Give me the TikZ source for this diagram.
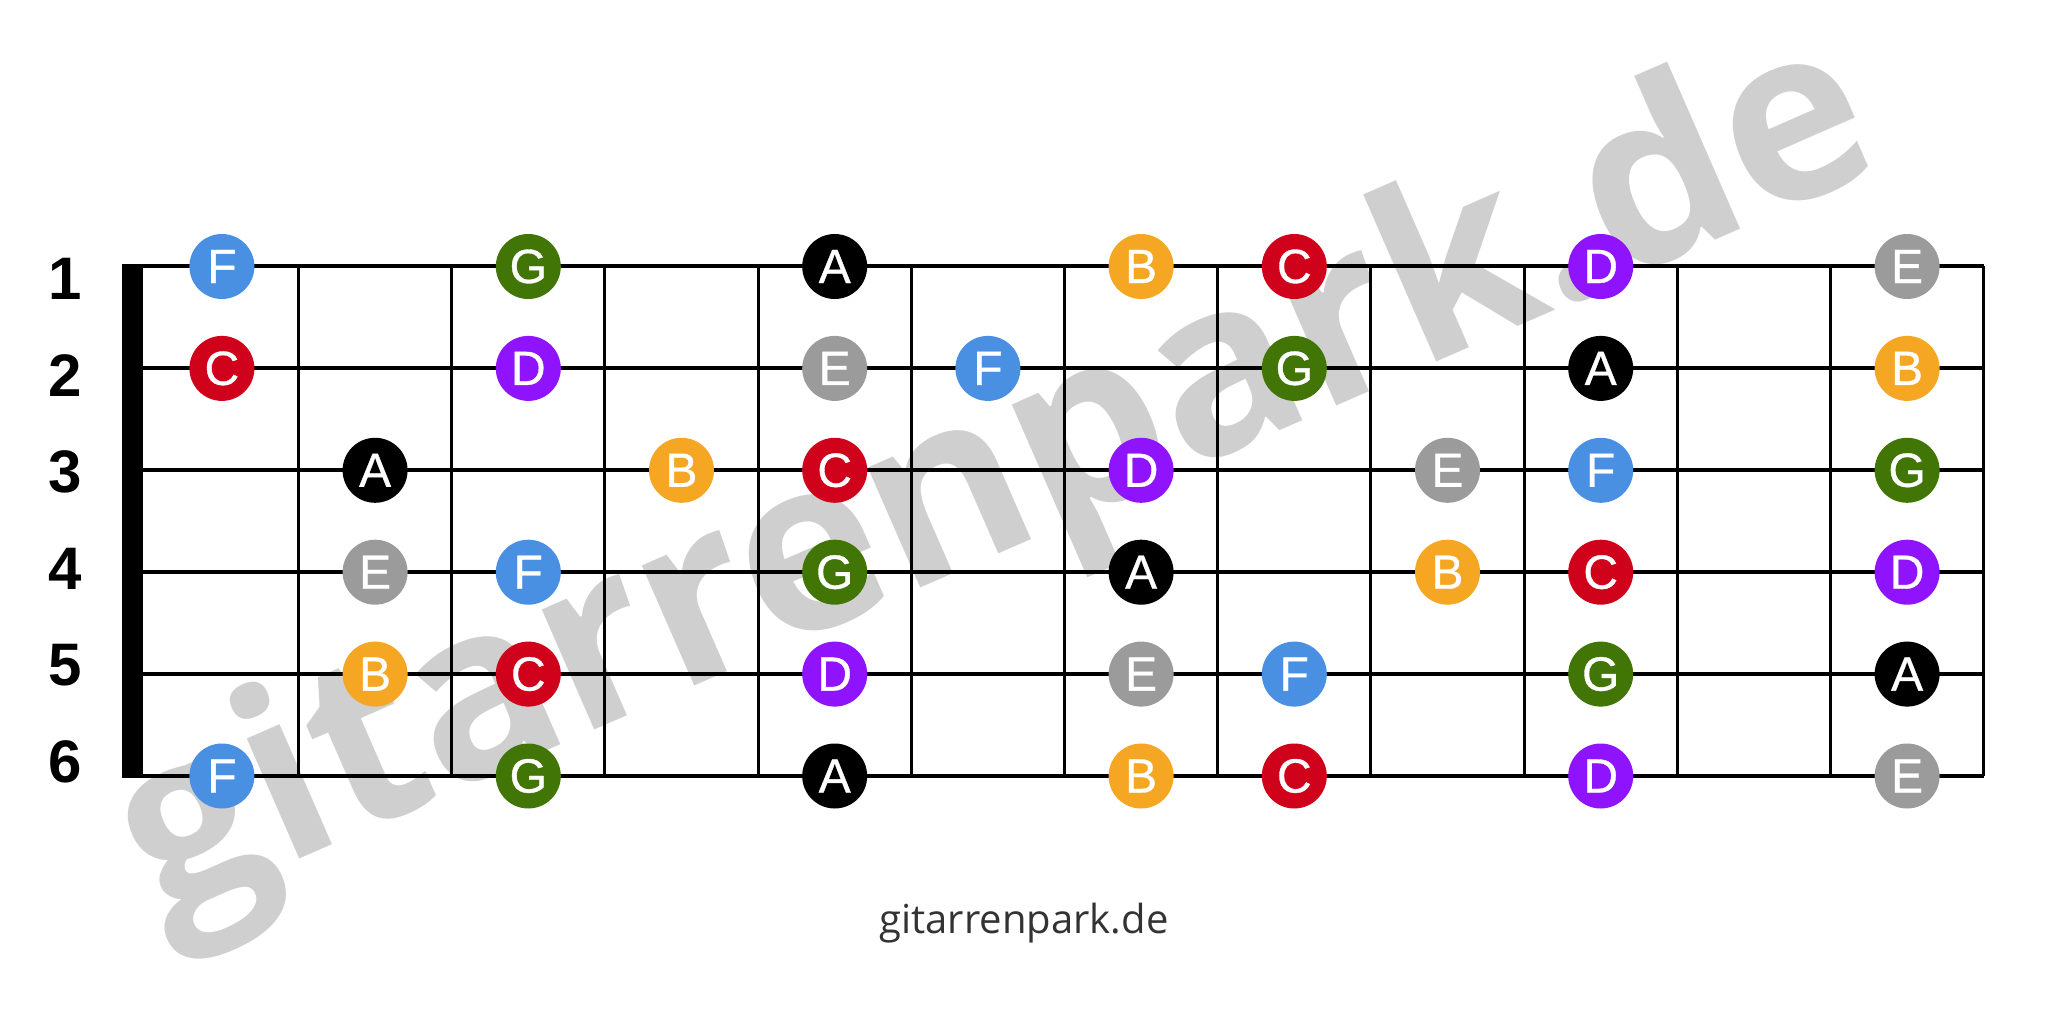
\documentclass[tikz,border=0pt]{standalone}
\usepackage{fontspec}
\setmainfont{Liberation Sans}
\newfontfamily\osans{Open Sans}
\newfontfamily\notefont[FakeBold=0.7]{Liberation Sans}
\definecolor{nF}{HTML}{4A90E2}
\definecolor{nG}{HTML}{417505}
\definecolor{nA}{HTML}{000000}
\definecolor{nB}{HTML}{F5A623}
\definecolor{nC}{HTML}{D0021B}
\definecolor{nD}{HTML}{9013FE}
\definecolor{nE}{HTML}{9B9B9B}
\definecolor{wmgray}{RGB}{207,207,207}
\begin{document}
\begin{tikzpicture}[x=1pt,y=-1pt,
  notedot/.style={circle,minimum size=65pt,inner sep=0pt,text=white,font=\notefont\fontsize{48}{48}\selectfont},
  stringline/.style={line width=4pt,black},
  fretline/.style={line width=3pt,black},
  strlabel/.style={font=\fontsize{60}{60}\selectfont\bfseries,inner sep=0pt},
  wmtext/.style={text=wmgray,font=\osans\bfseries\fontsize{240}{240}\selectfont,inner sep=0pt},
  footer/.style={font=\osans\fontsize{40}{40}\selectfont,text=black!80,inner sep=0pt}]
\fill[white] (0,0) rectangle (2048,1024);
\useasboundingbox (0,0) rectangle (2048,1024);
% watermark
\node[wmtext,anchor=base west,rotate=23.6] (wm) at (158,921) {gitarrenpark.de};
% strings
\foreach \s in {1,...,6} {
  \pgfmathsetmacro\yy{266.5+101.9*(\s-1)}
  \coordinate (sL\s) at (130,\yy);
  \coordinate (sR\s) at (1984,\yy);
  \draw[stringline] (sL\s) -- (sR\s);
}
% frets
\foreach \k in {1,...,12} {
  \pgfmathsetmacro\xx{298.5+153.2*(\k-1)}
  \coordinate (fT\k) at (\xx,266.5);
  \coordinate (fB\k) at (\xx,776);
  \draw[fretline] (fT\k) -- (fB\k);
}
% nut
\fill[black] (122,264.5) rectangle (143,778);
% string labels
\foreach \s in {1,...,6} {
  \pgfmathsetmacro\yy{278.5+96.7*(\s-1)}
  \node[strlabel] (lab\s) at (65,\yy) {\s};
}
% notes
\foreach \s/\k/\n in {
  1/1/F,1/3/G,1/5/A,1/7/B,1/8/C,1/10/D,1/12/E,
  2/1/C,2/3/D,2/5/E,2/6/F,2/8/G,2/10/A,2/12/B,
  3/2/A,3/4/B,3/5/C,3/7/D,3/9/E,3/10/F,3/12/G,
  4/2/E,4/3/F,4/5/G,4/7/A,4/9/B,4/10/C,4/12/D,
  5/2/B,5/3/C,5/5/D,5/7/E,5/8/F,5/10/G,5/12/A,
  6/1/F,6/3/G,6/5/A,6/7/B,6/8/C,6/10/D,6/12/E} {
  \pgfmathsetmacro\xx{298.5+153.2*(\k-1.5)}
  \pgfmathsetmacro\yy{266.5+101.9*(\s-1)}
  \node[notedot,fill=n\n] (n\s-\k) at (\xx,\yy) {\n};
}
% footer
\node[footer,anchor=base] (foot) at (1024,933) {gitarrenpark.de};
\end{tikzpicture}
\end{document}
